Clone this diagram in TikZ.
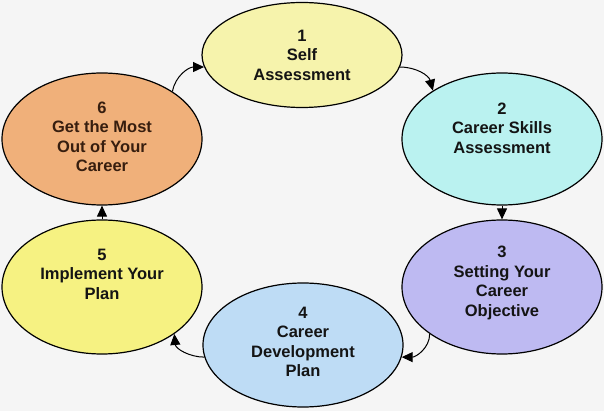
\documentclass[tikz,border=0pt]{standalone}
\usepackage{fontspec}
\setmainfont{Liberation Sans}
\usetikzlibrary{arrows.meta,shapes.geometric}
\definecolor{bg}{RGB}{245,245,245}
\definecolor{c1}{RGB}{246,243,172}
\definecolor{c2}{RGB}{186,242,240}
\definecolor{c3}{RGB}{190,186,242}
\definecolor{c4}{RGB}{190,220,245}
\definecolor{c5}{RGB}{246,242,130}
\definecolor{c6}{RGB}{240,176,122}
\definecolor{tx}{RGB}{20,20,20}
\definecolor{tx6}{RGB}{55,30,15}
\tikzset{
  ell/.style={ellipse, draw=black, line width=1.2pt, inner sep=0pt, minimum width=200pt},
  txt/.style={align=center, font=\bfseries\fontsize{16.5}{19.5}\selectfont, text=tx},
  conn/.style={line width=1pt, -{Triangle[length=11pt,width=10pt]}}
}
\begin{document}
\begin{tikzpicture}[x=1pt,y=-1pt]
\fill[bg] (0,0) rectangle (604,411);
\useasboundingbox (0,0) rectangle (604,411);
\node[ell, fill=c1, minimum height=105pt] (e1) at (302,55) {};
\node[ell, fill=c2, minimum height=132pt] (e2) at (502,139) {};
\node[ell, fill=c3, minimum height=134pt] (e3) at (502,287) {};
\node[ell, fill=c4, minimum height=124pt] (e4) at (303,345) {};
\node[ell, fill=c5, minimum height=134pt] (e5) at (102,287) {};
\node[ell, fill=c6, minimum height=132pt] (e6) at (102,139) {};
\node[txt] (t1) at (302,55) {1\\Self\\Assessment};
\node[txt] (t2) at (502,128) {2\\Career Skills\\Assessment};
\node[txt] (t3) at (502,283) {3\\Setting Your\\Career\\Objective};
\node[txt] (t4) at (303,342) {4\\Career\\Development\\Plan};
\node[txt] (t5) at (102,274) {5\\Implement Your\\Plan};
\node[txt, text=tx6] (t6) at (102,137) {6\\Get the Most\\Out of Your\\Career};
\draw[conn] (e6.34) to[out=80,in=180] (e1.187);
\draw[conn] (e1.353) to[out=0,in=105] (e2.145);
\draw[conn] (e2.south) -- (e3.north);
\draw[conn] (e3.213) to[out=270,in=0] (e4.353);
\draw[conn] (e4.187) to[out=180,in=275] (e5.327);
\draw[conn] (e5.north) -- (e6.south);
\end{tikzpicture}
\end{document}
